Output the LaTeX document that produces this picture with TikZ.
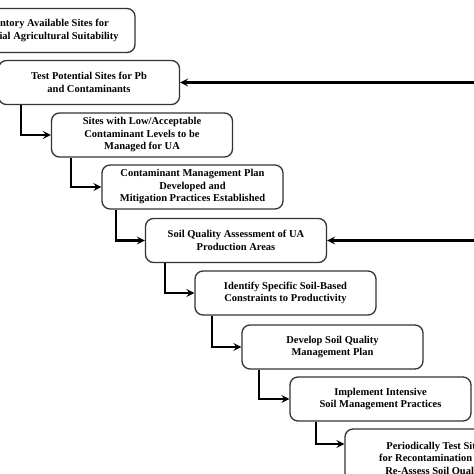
\documentclass[tikz,border=0pt]{standalone}
\usepackage{fontspec}
\setmainfont{Liberation Serif}
\usetikzlibrary{arrows.meta}

\tikzset{
  stepbox/.style={draw=black!80,line width=1.3pt,rounded corners=8pt,fill=white,
    minimum width=181pt,minimum height=44pt,align=center,inner sep=2pt,
    font=\fontsize{10.5}{12.5}\selectfont\bfseries},
  flow/.style={line width=2.2pt,-{Stealth[length=8pt,width=8pt,inset=3pt]}}
}

\begin{document}
\begin{tikzpicture}[x=1pt,y=-1pt]
\useasboundingbox (0,0) rectangle (474,474);
\clip (0,0) rectangle (474,474);

% Cascade of steps, each one lower and further right.
\node[stepbox] (b1) at (44.5,30.5) {Inventory Available Sites for\\Potential Agricultural Suitability};
\node[stepbox] (b2) at (89,82.5) {Test Potential Sites for Pb\\and Contaminants};
\node[stepbox] (b3) at (142,135) {Sites with Low/Acceptable\\Contaminant Levels to be\\Managed for UA};
\node[stepbox] (b4) at (192.5,187) {Contaminant Management Plan\\Developed and\\Mitigation Practices Established};
\node[stepbox] (b5) at (236,240.5) {Soil Quality Assessment of UA\\Production Areas};
\node[stepbox] (b6) at (285.5,293) {Identify Specific Soil-Based\\Constraints to Productivity};
\node[stepbox] (b7) at (332.5,347) {Develop Soil Quality\\Management Plan};
\node[stepbox] (b8) at (380.5,399) {Implement Intensive\\Soil Management Practices};
\node[stepbox,minimum height=60pt] (b9) at (435.5,459) {Periodically Test Sites\\for Recontamination and\\Re-Assess Soil Quality};

% Elbow links down the cascade.
\draw[flow] ([xshift=23pt]b2.south west) |- (b3.west);
\draw[flow] ([xshift=20pt]b3.south west) |- (b4.west);
\draw[flow] ([xshift=15pt]b4.south west) |- (b5.west);
\draw[flow] ([xshift=20pt]b5.south west) |- (b6.west);
\draw[flow] ([xshift=18pt]b6.south west) |- (b7.west);
\draw[flow] ([xshift=18pt]b7.south west) |- (b8.west);
\draw[flow] ([xshift=27pt]b8.south west) |- ([yshift=15pt]b9.west);

% Feedback arrows coming in from the right.
\coordinate (fb1) at (490,82.5);
\coordinate (fb2) at (490,240.5);
\draw[flow] (fb1) -- (b2.east);
\draw[flow] (fb2) -- (b5.east);

\end{tikzpicture}
\end{document}
